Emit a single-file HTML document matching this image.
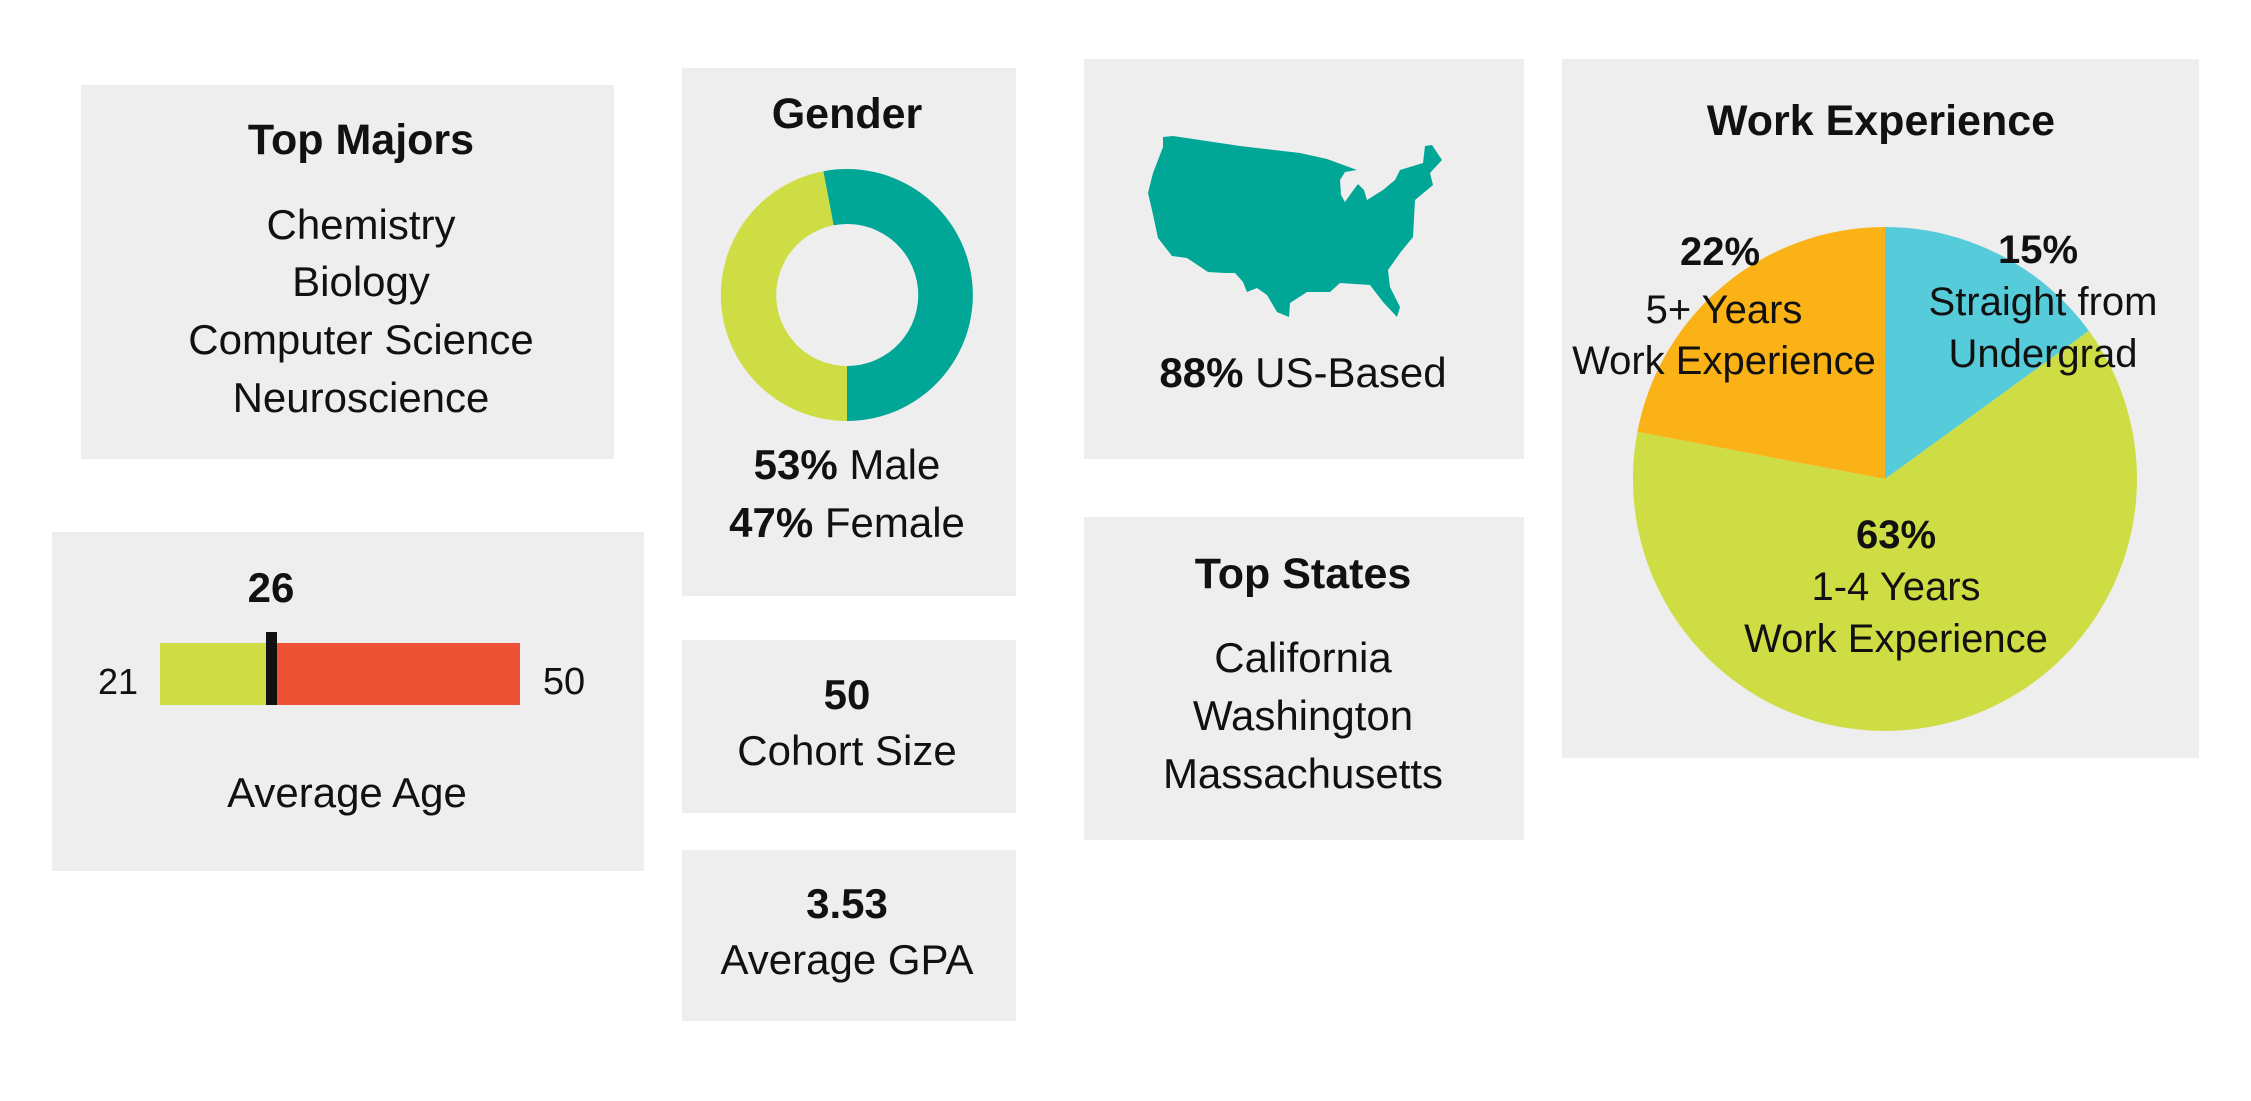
<!DOCTYPE html>
<html><head><meta charset="utf-8"><style>
html,body{margin:0;padding:0;background:#fff;}
body{width:2251px;height:1101px;position:relative;overflow:hidden;font-family:"Liberation Sans",sans-serif;color:#111;}
.p{position:absolute;background:#eeeeee;}
svg{position:absolute;left:0;top:0;}
</style></head><body>
<div class="p" style="left:81px;top:85px;width:533px;height:374px"></div>
<div class="p" style="left:52px;top:532px;width:592px;height:339px"></div>
<div class="p" style="left:682px;top:68px;width:334px;height:528px"></div>
<div class="p" style="left:682px;top:640px;width:334px;height:173px"></div>
<div class="p" style="left:682px;top:850px;width:334px;height:171px"></div>
<div class="p" style="left:1084px;top:59px;width:440px;height:400px"></div>
<div class="p" style="left:1084px;top:517px;width:440px;height:323px"></div>
<div class="p" style="left:1562px;top:59px;width:637px;height:699px"></div>
<svg width="2251" height="1101" viewBox="0 0 2251 1101" font-family="Liberation Sans, sans-serif" font-size="42" text-anchor="middle" fill="#111">
<g font-weight="bold" font-size="43">
<text x="361" y="154">Top Majors</text>
<text x="847" y="128">Gender</text>
<text x="1303" y="588">Top States</text>
<text x="1881" y="135">Work Experience</text>
</g>
<text x="361" y="239">Chemistry</text>
<text x="361" y="296">Biology</text>
<text x="361" y="354">Computer Science</text>
<text x="361" y="412">Neuroscience</text>
<text x="271" y="602" font-weight="bold">26</text>
<rect x="160" y="643" width="110" height="62" fill="#cfdd45"/>
<rect x="270" y="643" width="250" height="62" fill="#ee5235"/>
<rect x="266" y="632" width="11" height="73" fill="#111"/>
<text x="118" y="694" font-size="36">21</text>
<text x="564" y="694" font-size="38">50</text>
<text x="347" y="807">Average Age</text>
<g transform="translate(847,295)">
<path d="M0,126 A126,126 0 0 1 -23.6,-123.8 L-13.3,-69.7 A71,71 0 0 0 0,71 Z" fill="#cfdd45"/>
<path d="M-23.6,-123.8 A126,126 0 1 1 0,126 L0,71 A71,71 0 1 0 -13.3,-69.7 Z" fill="#00a696"/>
</g>
<text x="847" y="479"><tspan font-weight="bold">53%</tspan> Male</text>
<text x="847" y="537"><tspan font-weight="bold">47%</tspan> Female</text>
<text x="847" y="709" font-weight="bold">50</text>
<text x="847" y="765">Cohort Size</text>
<text x="847" y="918" font-weight="bold">3.53</text>
<text x="847" y="974">Average GPA</text>
<path fill="#00a696" d="M1163,137 L1173,136 L1240,146 L1300,153 L1327,159 L1357,170 L1345,172 L1340,180 L1341,195 L1345,202 L1352,192 L1358,184 L1364,190 L1367,200 L1383,190 L1395,180 L1400,170 L1423,163 L1425,146 L1432,145 L1442,160 L1430,173 L1433,185 L1415,200 L1413,237 L1400,253 L1388,270 L1390,287 L1400,307 L1397,317 L1383,302 L1370,285 L1340,283 L1330,292 L1307,292 L1290,303 L1289,317 L1277,312 L1267,295 L1257,288 L1247,292 L1243,282 L1235,273 L1225,273 L1208,272 L1187,258 L1172,256 L1158,238 L1152,210 L1148,193 L1153,173 L1163,147 Z"/>
<text x="1303" y="387"><tspan font-weight="bold">88%</tspan> US-Based</text>
<text x="1303" y="672">California</text>
<text x="1303" y="730">Washington</text>
<text x="1303" y="788">Massachusetts</text>
<g transform="translate(1885,479)">
<path d="M0,0 L0,-252 A252,252 0 0 1 203.9,-148.1 Z" fill="#56cbd9"/>
<path d="M0,0 L203.9,-148.1 A252,252 0 1 1 -247.6,-47.2 Z" fill="#cfdd45"/>
<path d="M0,0 L-247.6,-47.2 A252,252 0 0 1 0,-252 Z" fill="#fbb216"/>
</g>
<g font-size="40">
<text x="1720" y="265" font-weight="bold">22%</text>
<text x="1724" y="323">5+ Years</text>
<text x="1724" y="374">Work Experience</text>
<text x="2038" y="263" font-weight="bold">15%</text>
<text x="2043" y="315">Straight from</text>
<text x="2043" y="367">Undergrad</text>
<text x="1896" y="548" font-weight="bold">63%</text>
<text x="1896" y="600">1-4 Years</text>
<text x="1896" y="652">Work Experience</text>
</g>
</svg>
</body></html>
